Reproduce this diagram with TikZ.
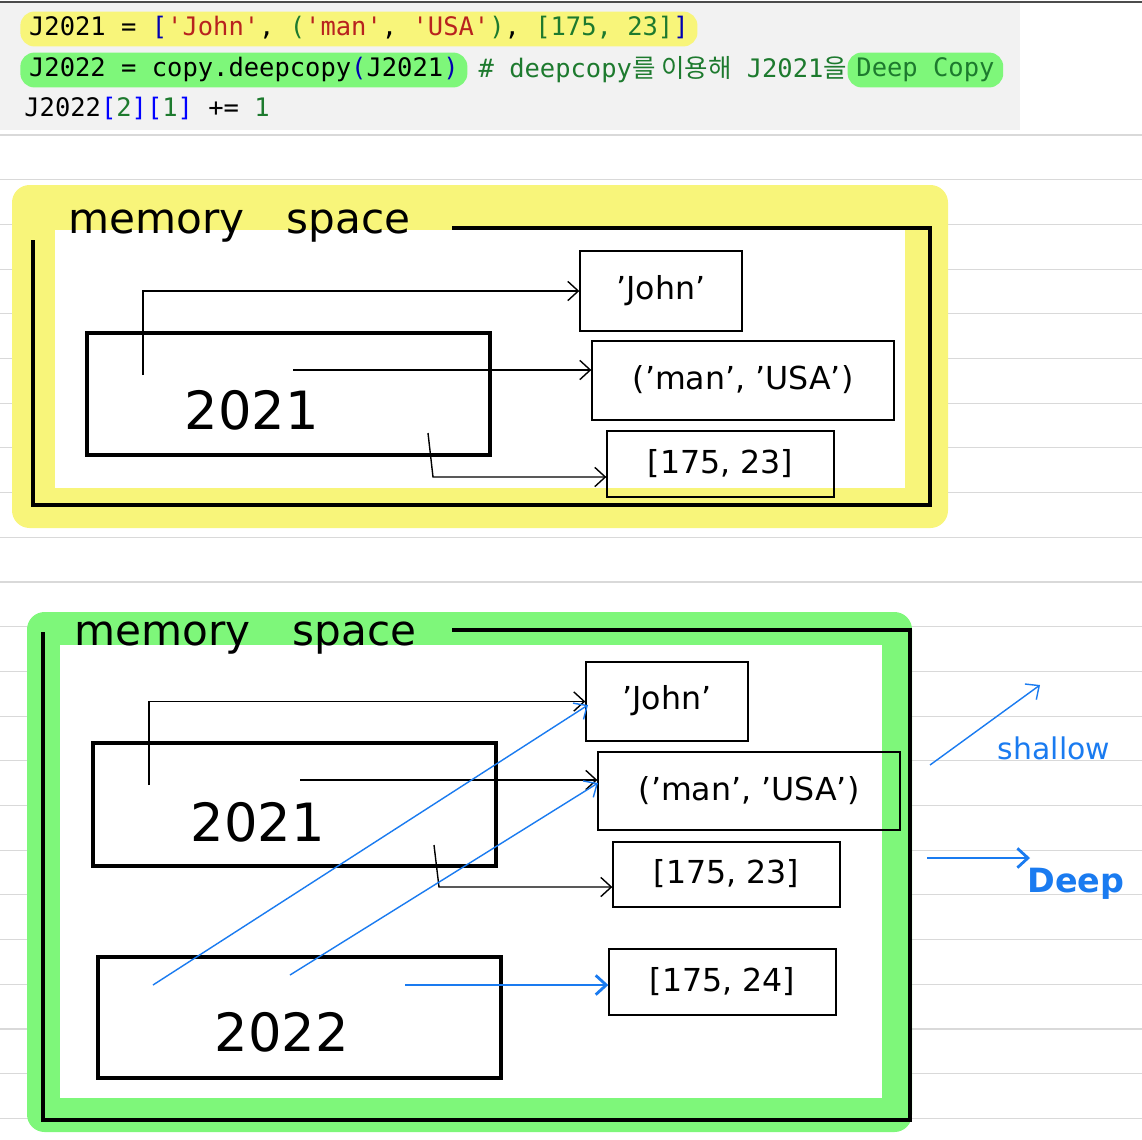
\documentclass[tikz,border=0pt]{standalone}
\usepackage{fontspec}
\setmainfont{DejaVu Sans}
\setmonofont{DejaVu Sans Mono}
\newfontfamily\cjk{Noto Sans CJK KR}
\usepackage{xcolor}
\usetikzlibrary{arrows, arrows.meta, positioning}
\definecolor{hlyellow}{HTML}{F8F57A}
\definecolor{hlgreen}{HTML}{7EF77A}
\definecolor{pen}{HTML}{1A7BF0}
\definecolor{codebg}{HTML}{F2F2F2}
\definecolor{kw}{HTML}{1D7A2E}
\definecolor{str}{HTML}{B8221E}
\tikzset{
  membox/.style={draw, line width=2pt},
  itembox/.style={draw, line width=0.8pt},
  frame/.style={line width=2.4pt},
  hand/.style={font=\fontsize{30}{30}\selectfont},
  spacetxt/.style={font=\fontsize{24}{24}\selectfont, anchor=west},
  itemtxt/.style={font=\fontsize{18}{18}\selectfont},
  codetxt/.style={font=\ttfamily\fontsize{14.5}{15}\selectfont, anchor=west, inner xsep=0pt, inner ysep=0pt},
  hilite/.style={rounded corners=8pt, inner xsep=5pt, inner ysep=5pt, text depth=0.2ex, text height=1.6ex},
  link/.style={-{Straight Barb[length=6pt, width=11pt]}, line width=0.8pt},
}
\begin{document}
\begin{tikzpicture}[x=0.02cm, y=-0.02cm, >={Straight Barb[length=6pt, width=11pt]}]
\useasboundingbox (0,0) rectangle (1142,1139);
% notebook lines
\foreach \k in {0,...,22}
  \draw[gray!30, line width=0.6pt] (0,135+44.7*\k) -- (1142,135+44.7*\k);
% code cell
\fill[codebg] (0,2) rectangle (1020,130);
\draw[black!70, line width=1pt] (0,2) -- (1142,2);
\node (line1) [codetxt, hilite, fill=hlyellow] at (20,29) {J2021 = \textcolor{blue!70!black}{[}\textcolor{str}{'John'}, \textcolor{kw}{(}\textcolor{str}{'man'}, \textcolor{str}{'USA'}\textcolor{kw}{)}, \textcolor{kw}{[175, 23]}\textcolor{blue!70!black}{]}};
\node (line2) [codetxt, hilite, fill=hlgreen] at (20,70) {J2022 = copy.deepcopy\textcolor{blue!70!black}{(}J2021\textcolor{blue!70!black}{)}};
\node (note) [codetxt, right=6pt of line2, text=kw] {\# deepcopy{\cjk 를 이용해} J2021{\cjk 을}};
\node (deepcopy) [codetxt, hilite, fill=hlgreen, right=0pt of note, text=kw] {Deep Copy};
\node (line3) [codetxt] at (24,108) {J2022\textcolor{blue}{[}\textcolor{kw}{2}\textcolor{blue}{][}\textcolor{kw}{1}\textcolor{blue}{]} += \textcolor{kw}{1}};

% ---- space of J2021
\fill[hlyellow, rounded corners=10pt] (12,185) rectangle (948,528);
\fill[white] (55,230) rectangle (905,488);
\draw[frame] (452,228) -- (930,228) -- (930,505) -- (33,505) -- (33,240);
\node (mem1) [spacetxt] at (62,226) {memory\quad space};
\node (y2021) [membox, minimum width=8.06cm, minimum height=2.44cm] at (288.5,394) {};
\node [hand] at (252,410) {2021};
\node (yjohn) [itembox, minimum width=3.24cm, minimum height=1.6cm] at (661,291) {};
\node [itemtxt] at (661,291) {'John'};
\node (yman) [itembox, minimum width=6.04cm, minimum height=1.58cm] at (743,380.5) {};
\node [itemtxt] at (743,380) {('man', 'USA')};
\node (ynum) [itembox, minimum width=4.54cm, minimum height=1.32cm] at (720.5,464) {};
\node [itemtxt] at (720.5,464) {[175, 23]};
\coordinate (ya) at (143,375);
\coordinate (yb) at (293,370);
\coordinate (yc) at (428,433);
\draw[link] (ya) |- (yjohn.west);
\draw[link] (yb) -- (yb -| yman.west);
\draw[link] (yc) -- (433,477) -- (ynum.west |- 0,477);

% ---- space of J2022
\fill[hlgreen, rounded corners=10pt] (27,612) rectangle (912,1132);
\fill[white] (60,645) rectangle (882,1098);
\draw[frame] (452,630) -- (910,630) -- (910,1120) -- (43,1120) -- (43,632);
\node (mem2) [spacetxt] at (68,638) {memory\quad space};
\node (g2021) [membox, minimum width=8.06cm, minimum height=2.46cm] at (294.5,804.5) {};
\node [hand] at (258,822) {2021};
\node (g2022) [membox, minimum width=8.06cm, minimum height=2.42cm] at (299.5,1017.5) {};
\node [hand] at (282,1032) {2022};
\node (gjohn) [itembox, minimum width=3.24cm, minimum height=1.58cm] at (667,701.5) {};
\node [itemtxt] at (667,701) {'John'};
\node (gman) [itembox, minimum width=6.04cm, minimum height=1.56cm] at (749,791) {};
\node [itemtxt] at (749,791) {('man', 'USA')};
\node (gnum) [itembox, minimum width=4.54cm, minimum height=1.3cm] at (726.5,874.5) {};
\node [itemtxt] at (726.5,874) {[175, 23]};
\node (gnew) [itembox, minimum width=4.54cm, minimum height=1.32cm] at (722.5,982) {};
\node [itemtxt] at (722.5,982) {[175, 24]};
\coordinate (ga) at (149,785);
\coordinate (gb) at (300,780);
\coordinate (gc) at (434,845);
\draw[link] (ga) |- (gjohn.west);
\draw[link] (gb) -- (gb -| gman.west);
\draw[link] (gc) -- (439,887) -- (gnum.west |- 0,887);
% 2022 references
\coordinate (sa) at (153,985);
\coordinate (sb) at (290,975);
\coordinate (sc) at (405,985);
\draw[pen, ->, line width=0.8pt] (sa) -- (588,705);
\draw[pen, ->, line width=0.8pt] (sb) -- (598,783);
\draw[pen, ->, line width=1.6pt] (sc) -- (gnew.west |- sc);

% legend
\coordinate (la) at (930,765);
\coordinate (lb) at (927,858);
\coordinate (lc) at (1040,685);
\coordinate (ld) at (1030,858);
\draw[pen, ->, line width=0.8pt] (la) -- (lc);
\draw[pen, ->, line width=1.6pt] (lb) -- (ld);
\node (shallow) [pen, font=\fontsize{17}{17}\selectfont] at (1054,748) {shallow};
\node (deep) [pen, font=\fontsize{19}{19}\selectfont\bfseries] at (1076,884) {Deep};
\end{tikzpicture}
\end{document}
